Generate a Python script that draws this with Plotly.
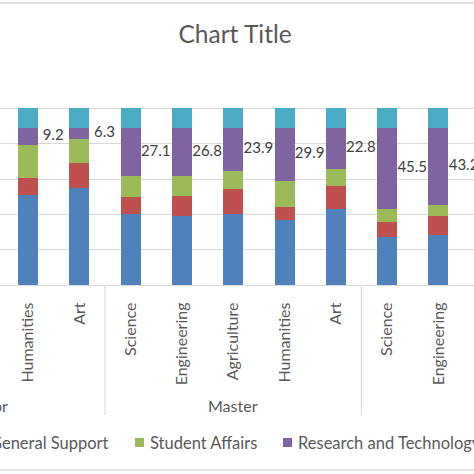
import plotly.graph_objects as go

# ---------------- data ----------------
# Full category list; the first three Bachelor bars lie outside the cropped view.
categories = ["Science", "Engineering", "Agriculture", "Humanities", "Art",
              "Science", "Engineering", "Agriculture", "Humanities", "Art",
              "Science", "Engineering"]
category_group = ["Bachelor"] * 5 + ["Master"] * 5 + ["Doctor"] * 2
labelled_groups = ["Bachelor", "Master"]

series_names = ["Instruction", "General Support", "Student Affairs",
                "Research and Technology", "Other"]
instruction = [None, None, None, 51.0, 54.7, 40.3, 39.1, 40.2, 36.7, 43.0, 27.1, 28.1]
general_support = [None, None, None, 9.4, 14.4, 9.5, 11.4, 14.4, 7.2, 12.8, 8.5, 11.0]
student_affairs = [None, None, None, 19.1, 13.4, 11.9, 11.4, 10.2, 14.9, 10.1, 7.6, 6.4]
research = [None, None, None, 9.2, 6.3, 27.1, 26.8, 23.9, 29.9, 22.8, 45.5, 43.2]
other = [None, None, None, 11.3, 11.2, 11.2, 11.3, 11.3, 11.3, 11.3, 11.3, 11.3]

series_values = [instruction, general_support, student_affairs, research, other]
colors = ["#4F81BD", "#C0504D", "#9BBB59", "#8064A2", "#4BACC6"]

# ---------------- layout helpers ----------------
W, H = 474, 474
PLOT_TOP, PLOT_BOTTOM = 73, 285
X_RANGE = [2.454, 11.694]
FONT = "Lato"


def py(px):
    """pixel row -> paper y"""
    return (PLOT_BOTTOM - px) / (PLOT_BOTTOM - PLOT_TOP)


def px_x(px):
    """pixel column -> paper x (no side margins)"""
    return px / W


def idx_to_paper(v):
    return (v - X_RANGE[0]) / (X_RANGE[1] - X_RANGE[0])


x = list(range(len(categories)))

fig = go.Figure()
for name, vals, col in zip(series_names, series_values, colors):
    fig.add_trace(go.Bar(x=x, y=vals, name=name, marker=dict(color=col, line=dict(width=0)),
                         width=0.39, showlegend=False, hoverinfo="skip"))

# data labels for Research and Technology, centred in the gap to the right of each bar
lab_x, lab_y, lab_t = [], [], []
for i in x:
    if research[i] is None:
        continue
    base = instruction[i] + general_support[i] + student_affairs[i]
    lab_x.append(i + 0.49)
    lab_y.append(base + research[i] / 2)
    lab_t.append(f"{research[i]:.1f}")
fig.add_trace(go.Scatter(x=lab_x, y=lab_y, text=lab_t, mode="text",
                         textposition="middle center",
                         textfont=dict(family=FONT, size=15, color="#404040"),
                         showlegend=False, hoverinfo="skip", cliponaxis=False))

shapes = []
annotations = []

# group dividers
for i in range(1, len(categories)):
    if category_group[i] != category_group[i - 1]:
        shapes.append(dict(type="line", xref="x", yref="paper", x0=i - 0.5, x1=i - 0.5,
                           y0=0, y1=py(415), line=dict(color="#D9D9D9", width=1.2)))

# group labels
for g in labelled_groups:
    members = [i for i in x if category_group[i] == g]
    centre = sum(members) / len(members)
    annotations.append(dict(text=g, xref="paper", yref="paper", x=idx_to_paper(centre),
                            y=py(405), xanchor="center", yanchor="middle", showarrow=False,
                            font=dict(family=FONT, size=16, color="#595959")))

# chart border lines (top / bottom)
for yy in (3, 470):
    shapes.append(dict(type="line", xref="paper", yref="paper", x0=0, x1=1,
                       y0=py(yy), y1=py(yy), line=dict(color="#D9D9D9", width=1.5)))

# legend (cropped like the original, built from series names/colours)
legend_text_left = {1: -12, 2: 148, 3: 296}
for k, left in legend_text_left.items():
    shapes.append(dict(type="rect", xref="paper", yref="paper",
                       x0=px_x(left - 13), x1=px_x(left - 4), y0=py(447), y1=py(438),
                       fillcolor=colors[k], line=dict(width=0)))
    annotations.append(dict(text=series_names[k], xref="paper", yref="paper", x=px_x(left),
                            y=py(442.5), xanchor="left", yanchor="middle", showarrow=False,
                            font=dict(family=FONT, size=16.5, color="#595959")))

fig.update_layout(
    width=W, height=H,
    margin=dict(l=0, r=0, t=PLOT_TOP, b=H - PLOT_BOTTOM, pad=0),
    barmode="stack",
    paper_bgcolor="white", plot_bgcolor="white",
    title=dict(text="Chart Title", x=0.496, xanchor="center", y=1 - 34 / H, yanchor="middle",
               font=dict(family=FONT, size=24.5, color="#595959")),
    xaxis=dict(range=X_RANGE, tickmode="array", tickvals=x, ticktext=categories,
               tickangle=-90, tickfont=dict(family=FONT, size=16, color="#595959"),
               showline=True, linecolor="#D9D9D9", linewidth=1.2, ticks="",
               ticklabelstandoff=10, showgrid=False, zeroline=False, fixedrange=True),
    yaxis=dict(range=[0, 120], dtick=20, showgrid=True, gridcolor="#D9D9D9", gridwidth=1.2,
               showticklabels=False, zeroline=False, showline=False, fixedrange=True),
    shapes=shapes, annotations=annotations,
    showlegend=False,
)

fig.write_html("out.html")
